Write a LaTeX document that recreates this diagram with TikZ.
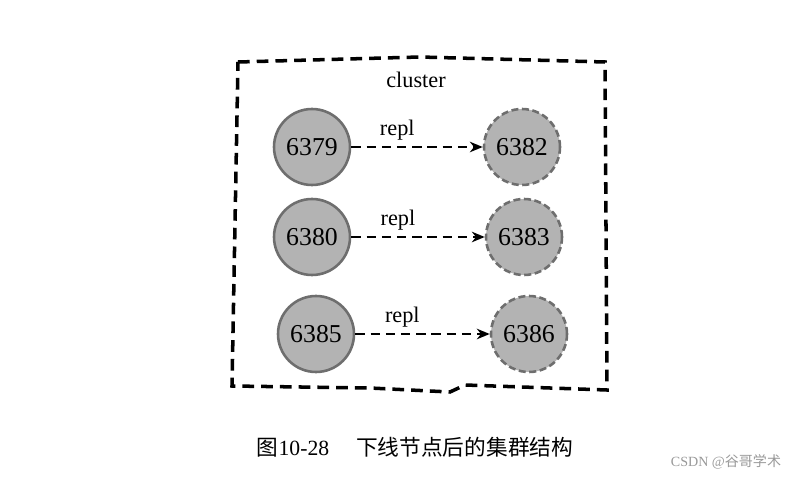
\documentclass[tikz,border=0pt]{standalone}
\usepackage{fontspec}
\setmainfont{Liberation Serif}
\newfontfamily\cjk{Noto Sans CJK SC}
\usetikzlibrary{arrows.meta}
\definecolor{nodefill}{HTML}{B3B3B3}
\definecolor{nodeline}{HTML}{6E6E6E}
\tikzset{
  master/.style={circle,minimum size=76*0.03cm,inner sep=0pt,fill=nodefill,draw=nodeline,line width=2.2pt,font=\fontsize{22}{24}\selectfont},
  replica/.style={master,dashed,dash pattern=on 6pt off 3pt},
  repl/.style={-{Stealth[length=11pt,width=9pt]},line width=2.2pt,dash pattern=on 8pt off 5pt},
  lbl/.style={font=\fontsize{19}{21}\selectfont}
}
\begin{document}
\begin{tikzpicture}[x=0.03cm,y=-0.03cm]
\useasboundingbox (0,0) rectangle (810,480);
\draw[line width=3pt,dash pattern=on 10pt off 6pt]
  (238,62) -- (420,57) -- (605,62) -- (607,390) -- (465,385) -- (450,392) -- (370,388) -- (232,386) -- cycle;
\node[lbl] (cl) at (416,80) {cluster};
\node[master] (a1) at (312,147) {6379};
\node[master] (a2) at (312,237) {6380};
\node[master] (a3) at (316,334) {6385};
\node[replica] (b1) at (522,147) {6382};
\node[replica] (b2) at (524,237) {6383};
\node[replica] (b3) at (529,334) {6386};
\draw[repl] (a1) -- (b1) node[pos=0.35,above=1pt,lbl] {repl};
\draw[repl] (a2) -- (b2) node[pos=0.35,above=1pt,lbl] {repl};
\draw[repl] (a3) -- (b3) node[pos=0.35,above=1pt,lbl] {repl};
\node[font=\fontsize{18.5}{20}\selectfont] (cap) at (415,447) {\cjk 图\rmfamily10-28\quad\ \cjk 下线节点后的集群结构};
\node[font=\fontsize{12}{14}\selectfont,text=gray!80] (wm) at (726,462) {CSDN @\cjk 谷哥学术};
\end{tikzpicture}
\end{document}
